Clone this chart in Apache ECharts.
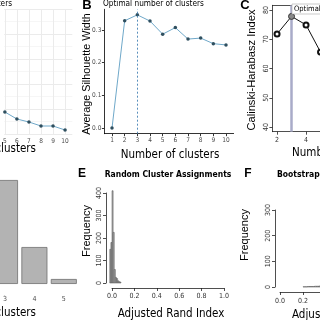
<!DOCTYPE html>
<html>
<head>
<meta charset="utf-8">
<script src="https://cdn.jsdelivr.net/npm/echarts@6/dist/echarts.min.js"></script>
<style>
html,body{margin:0;padding:0;background:#fff}
#main{width:320px;height:320px}
</style>
</head>
<body>
<div id="main"></div>
<script>
// A - elbow (only k = 5..10 in view)
var elbowK = [5, 6, 7, 8, 9, 10];
var elbowWss = [17.6, 12.0, 9.6, 6.4, 6.4, 3.2];
// B - average silhouette width
var silK = [1, 2, 3, 4, 5, 6, 7, 8, 9, 10];
var silW = [0, 0.328, 0.346, 0.327, 0.287, 0.307, 0.272, 0.275, 0.258, 0.254];
var silBest = 3;
// C - Calinski-Harabasz index
var chK = [2, 3, 4, 5];
var chIdx = [71.8, 77.8, 74.9, 65.6];
var chBest = 3;
// D - share of runs picking each k
var dK = [3, 4, 5];
var dShare = [0.712, 0.253, 0.034];
// E - ARI, random cluster assignments
var eEdges = [-0.02, -0.01, 0, 0.01, 0.02, 0.03, 0.04, 0.05, 0.06, 0.07, 0.08];
var eCounts = [150, 180, 410, 225, 60, 25, 20, 10, 6, 4];
// F - ARI, bootstrapped (only low tail in view)
var fEdges = [0.20, 0.22, 0.24, 0.26, 0.28, 0.30, 0.32, 0.34, 0.36];
var fCounts = [1, 1, 2, 2, 2, 3, 3, 4];

var FONT = "'Liberation Sans', Arial, sans-serif";
var NARROW = "'Liberation Sans Narrow', 'DejaVu Sans Condensed', 'Liberation Sans', sans-serif";
var chart = echarts.init(document.getElementById('main'));

// base R style axis
function rAxis(grid, min, max, ticks, extra) {
    var ax = {
        type: 'value', gridIndex: grid, min: min, max: max,
        axisLine: { show: true, onZero: false, lineStyle: { color: '#222', width: 0.8 } },
        axisTick: { show: true, length: 3, customValues: ticks, lineStyle: { color: '#222', width: 0.8 } },
        axisLabel: { customValues: ticks, fontSize: 7, color: '#333', margin: 3, fontFamily: NARROW },
        splitLine: { show: false }
    };
    return Object.assign(ax, extra || {});
}

function histItem(params, api) {
    var p0 = api.coord([api.value(0), api.value(2)]);
    var p1 = api.coord([api.value(1), 0]);
    return {
        type: 'rect',
        shape: { x: p0[0], y: p0[1], width: p1[0] - p0[0], height: p1[1] - p0[1] },
        style: { fill: '#b0b0b0', stroke: '#4d4d4d', lineWidth: 0.5 }
    };
}

var chData = chK.map(function (k, i) {
    if (k === chBest) {
        return { value: [k, chIdx[i]], symbol: 'circle', symbolSize: 6,
                 itemStyle: { color: '#888', borderColor: '#333', borderWidth: 1 } };
    }
    return [k, chIdx[i]];
});

function txt(x, y, text, font, align, extra) {
    return Object.assign({
        type: 'text', x: x, y: y,
        style: { text: text, font: font, fill: '#000', align: align || 'center', verticalAlign: 'middle' }
    }, extra || {});
}
var fmt1 = function (v) { return v.toFixed(1); };

var option = {
    animation: false,
    grid: [
        { left: 0, top: 9, width: 72.3, height: 125 },           // A
        { left: 104.4, top: 9.3, width: 129.2, height: 124.4 },  // B
        { left: 272.4, top: 5.3, width: 47.6, height: 126.4 },   // C
        { left: 0, top: 173, width: 78.75, height: 116.8 },      // D
        { left: 112, top: 193, width: 112, height: 90 },         // E
        { left: 280, top: 210, width: 40, height: 77 }           // F
    ],
    xAxis: [
        { type: 'value', gridIndex: 0, min: 4.95, max: 10.6,
          axisLine: { show: false }, axisTick: { show: false, customValues: elbowK },
          axisLabel: { customValues: elbowK, fontSize: 6.5, color: '#4d4d4d', margin: 4, fontFamily: NARROW },
          splitLine: { show: true, lineStyle: { color: '#ebebeb', width: 1 } } },
        { type: 'value', gridIndex: 1, min: 0.4, max: 10.6,
          axisLine: { show: true, onZero: false, lineStyle: { color: '#000', width: 0.8 } },
          axisTick: { show: true, length: 2.5, customValues: silK, lineStyle: { color: '#333' } },
          axisLabel: { customValues: silK, fontSize: 6.5, color: '#4d4d4d', margin: 3, fontFamily: NARROW },
          splitLine: { show: false } },
        rAxis(2, 1.68, 4.963, [2, 4], {
          axisLabel: { customValues: [2, 4], fontSize: 7, color: '#333', margin: 5, fontFamily: NARROW } }),
        { type: 'value', gridIndex: 3, min: 2.926, max: 5.508,
          axisLine: { show: false }, axisTick: { show: false },
          axisLabel: { customValues: dK, fontSize: 7, color: '#4d4d4d', margin: 6, fontFamily: NARROW },
          splitLine: { show: false } },
        rAxis(4, 0, 1, [0, 0.2, 0.4, 0.6, 0.8, 1.0], { offset: 5,
          axisLabel: { customValues: [0, 0.2, 0.4, 0.6, 0.8, 1.0], fontSize: 7, color: '#333', margin: 5,
                       fontFamily: NARROW, formatter: fmt1 } }),
        rAxis(5, 0, 0.348, [0, 0.2], { offset: 5,
          axisLabel: { customValues: [0, 0.2], fontSize: 7, color: '#333', margin: 6,
                       fontFamily: NARROW, formatter: fmt1 } }),
        // top edge of the C box
        { type: 'value', gridIndex: 2, position: 'top', min: 1.68, max: 4.963,
          axisLine: { show: true, lineStyle: { color: '#222', width: 0.8 } },
          axisTick: { show: false }, axisLabel: { show: false }, splitLine: { show: false } }
    ],
    yAxis: [
        { type: 'value', gridIndex: 0, min: 0, max: 100, interval: 20,
          axisLine: { show: false }, axisTick: { show: false }, axisLabel: { show: false },
          splitLine: { show: true, lineStyle: { color: '#ebebeb', width: 1 } },
          minorTick: { show: false, splitNumber: 2 },
          minorSplitLine: { show: true, lineStyle: { color: '#f4f4f4', width: 0.8 } } },
        { type: 'value', gridIndex: 1, min: -0.0173, max: 0.363,
          axisLine: { show: true, onZero: false, lineStyle: { color: '#000', width: 0.8 } },
          axisTick: { show: true, length: 2.5, customValues: [0, 0.1, 0.2, 0.3], lineStyle: { color: '#333' } },
          axisLabel: { customValues: [0, 0.1, 0.2, 0.3], fontSize: 6.5, color: '#4d4d4d', margin: 3,
                       fontFamily: NARROW, formatter: fmt1 },
          splitLine: { show: false } },
        rAxis(2, 38.4, 81.6, [40, 50, 60, 70, 80], {
          axisLabel: { customValues: [40, 50, 60, 70, 80], fontSize: 7, color: '#333', margin: 3, rotate: 90, fontFamily: NARROW } }),
        { type: 'value', gridIndex: 3, min: -0.04, max: 0.76,
          axisLine: { show: false }, axisTick: { show: false }, axisLabel: { show: false }, splitLine: { show: false } },
        rAxis(4, 0, 400, [0, 100, 200, 300, 400], { offset: 6,
          axisLabel: { customValues: [0, 100, 200, 300, 400], fontSize: 7, color: '#333', margin: 3, rotate: 90, fontFamily: NARROW } }),
        rAxis(5, 0, 300, [0, 100, 200, 300], { offset: 5,
          axisLabel: { customValues: [0, 100, 200, 300], fontSize: 7, color: '#333', margin: 3, rotate: 90, fontFamily: NARROW } })
    ],
    series: [
        { type: 'line', xAxisIndex: 0, yAxisIndex: 0, clip: false,
          data: elbowK.map(function (k, i) { return [k, elbowWss[i]]; }),
          lineStyle: { color: '#6fa8c9', width: 1 }, symbol: 'circle', symbolSize: 3.5,
          itemStyle: { color: '#2f4f5f' } },
        { type: 'line', xAxisIndex: 1, yAxisIndex: 1,
          data: silK.map(function (k, i) { return [k, silW[i]]; }),
          lineStyle: { color: '#6fa8c9', width: 1 }, symbol: 'circle', symbolSize: 3.5,
          itemStyle: { color: '#2f4f5f' },
          markLine: { silent: true, symbol: 'none', label: { show: false },
                      lineStyle: { color: '#4682b4', type: [2, 2], width: 0.9 },
                      data: [{ xAxis: silBest }] } },
        { type: 'line', xAxisIndex: 2, yAxisIndex: 2, data: chData, clip: false,
          lineStyle: { color: '#111', width: 1 }, symbol: 'emptyCircle', symbolSize: 5,
          itemStyle: { color: '#111', borderWidth: 0.9 },
          markLine: { silent: true, symbol: 'none', label: { show: false }, z: 1,
                      lineStyle: { color: '#a9abc9', type: 'solid', width: 2.5 },
                      data: [{ xAxis: chBest }] } },
        { type: 'bar', xAxisIndex: 3, yAxisIndex: 3, barWidth: 26, clip: false,
          data: dK.map(function (k, i) { return [k, dShare[i]]; }),
          itemStyle: { color: '#b3b3b3', borderColor: '#6e6e6e', borderWidth: 0.8 } },
        { type: 'custom', xAxisIndex: 4, yAxisIndex: 4, clip: false, renderItem: histItem,
          encode: { x: [0, 1], y: 2 },
          data: eCounts.map(function (c, i) { return [eEdges[i], eEdges[i + 1], c]; }) },
        { type: 'custom', xAxisIndex: 5, yAxisIndex: 5, clip: false, renderItem: histItem,
          encode: { x: [0, 1], y: 2 },
          data: fCounts.map(function (c, i) { return [fEdges[i], fEdges[i + 1], c]; }) }
    ],
    graphic: [
        // A
        txt(12, 4, 'Optimal number of clusters', '8.2px ' + NARROW, 'right'),
        txt(36, 149, 'Number of clusters', '11.5px ' + NARROW, 'right'),
        // B
        txt(87, 5, 'B', 'bold 13px ' + FONT),
        txt(103, 4, 'Optimal number of clusters', '8.2px ' + NARROW, 'left'),
        txt(87, 74, 'Average Silhouette Width', '10.8px ' + FONT, 'center', { rotation: Math.PI / 2 }),
        txt(170, 155, 'Number of clusters', '11.5px ' + NARROW),
        // C
        txt(245, 5, 'C', 'bold 13px ' + FONT),
        txt(252, 70, 'Calinski-Harabasz Index', '11.2px ' + FONT, 'center', { rotation: Math.PI / 2 }),
        { type: 'rect', shape: { x: 292, y: 4, width: 60, height: 10 }, style: { fill: '#fff', stroke: '#aaa', lineWidth: 0.6 }, z: 10 },
        txt(294, 9, 'Optimal number of clusters', '7.5px ' + NARROW, 'left', { z: 11 }),
        txt(292, 153, 'Number of clusters', '11.5px ' + NARROW, 'left'),
        // D
        txt(36, 313, 'Number of clusters', '11.5px ' + NARROW, 'right'),
        // E
        txt(82, 174, 'E', 'bold 12px ' + FONT),
        txt(168, 175, 'Random Cluster Assignments', 'bold 8.5px ' + NARROW),
        txt(87, 231, 'Frequency', '11px ' + FONT, 'center', { rotation: Math.PI / 2 }),
        txt(171, 314, 'Adjusted Rand Index', '11.5px ' + NARROW),
        // F
        txt(248, 174, 'F', 'bold 12px ' + FONT),
        txt(277, 175, 'Bootstrapped Cluster Assignments', 'bold 8.5px ' + NARROW, 'left'),
        txt(245, 235, 'Frequency', '11px ' + FONT, 'center', { rotation: Math.PI / 2 }),
        txt(292, 315, 'Adjusted Rand Index', '11.5px ' + NARROW, 'left')
    ]
};
chart.setOption(option);
window.onresize = function () { chart.resize(); };
</script>
</body>
</html>
